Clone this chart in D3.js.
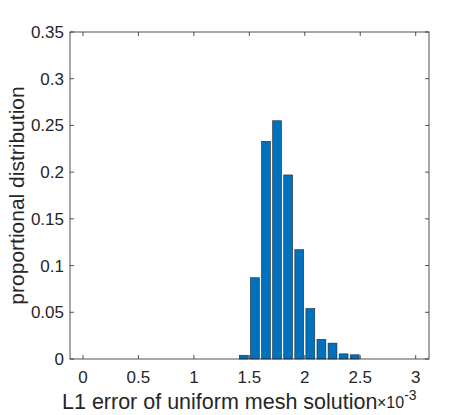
<!DOCTYPE html>
<html><head><meta charset="utf-8">
<script src="https://cdn.jsdelivr.net/npm/d3@7"></script>
<style>body{margin:0;background:#fff}text{font-family:"Liberation Sans",Arial,sans-serif}</style>
</head><body>
<script>
// bin centres (x 1e-3) and proportions
const binCenters = [1.45, 1.55, 1.65, 1.75, 1.85, 1.95, 2.05, 2.15, 2.25, 2.35, 2.45];
const proportions = [0.004, 0.087, 0.233, 0.255, 0.197, 0.117, 0.054, 0.021, 0.017, 0.0055, 0.0045];
const xTicks = [0, 0.5, 1, 1.5, 2, 2.5, 3];
const yTicks = [0, 0.05, 0.1, 0.15, 0.2, 0.25, 0.3, 0.35];

const W = 474, H = 415;
const L = 70, R = 429, T = 32, B = 359;
const x = d3.scaleLinear().domain([-0.117, 3.12]).range([L, R]);
const y = d3.scaleLinear().domain([0, 0.35]).range([B, T]);
const svg = d3.select("body").append("svg").attr("width", W).attr("height", H);

const bw = x(0.08) - x(0);
svg.selectAll("rect.bar").data(binCenters).enter().append("rect")
  .attr("x", d => x(d) - bw / 2)
  .attr("y", (d, i) => y(proportions[i]))
  .attr("width", bw)
  .attr("height", (d, i) => y(0) - y(proportions[i]))
  .attr("fill", "#0072BD").attr("stroke", "#1a2a3a").attr("stroke-width", 0.6);

const ax = "#262626";
svg.append("rect").attr("x", L).attr("y", T).attr("width", R - L).attr("height", B - T)
  .attr("fill", "none").attr("stroke", ax).attr("stroke-width", 0.8);

xTicks.forEach(t => {
  const px = x(t);
  svg.append("line").attr("x1", px).attr("x2", px).attr("y1", B).attr("y2", B - 4).attr("stroke", ax).attr("stroke-width", 0.8);
  svg.append("line").attr("x1", px).attr("x2", px).attr("y1", T).attr("y2", T + 4).attr("stroke", ax).attr("stroke-width", 0.8);
  svg.append("text").attr("x", px).attr("y", B + 24).attr("text-anchor", "middle")
    .attr("font-size", 17).attr("fill", ax).text(t);
});
yTicks.forEach(t => {
  const py = y(t);
  svg.append("line").attr("x1", L).attr("x2", L + 4).attr("y1", py).attr("y2", py).attr("stroke", ax).attr("stroke-width", 0.8);
  svg.append("line").attr("x1", R).attr("x2", R - 4).attr("y1", py).attr("y2", py).attr("stroke", ax).attr("stroke-width", 0.8);
  svg.append("text").attr("x", L - 6).attr("y", py + 6).attr("text-anchor", "end")
    .attr("font-size", 17).attr("fill", ax).text(t);
});

svg.append("text").attr("x", 62).attr("y", 409)
  .attr("font-size", 21.5).attr("fill", ax).text("L1 error of uniform mesh solution");
const ex = svg.append("text").attr("x", 377).attr("y", 408).attr("font-size", 16).attr("fill", ax);
ex.append("tspan").text("\u00d710");
ex.append("tspan").attr("dy", -8).attr("font-size", 14).text("-3");

svg.append("text").attr("transform", `translate(24,${(T + B) / 2}) rotate(-90)`)
  .attr("text-anchor", "middle").attr("font-size", 21).attr("fill", ax).text("proportional distribution");
</script>
</body></html>
